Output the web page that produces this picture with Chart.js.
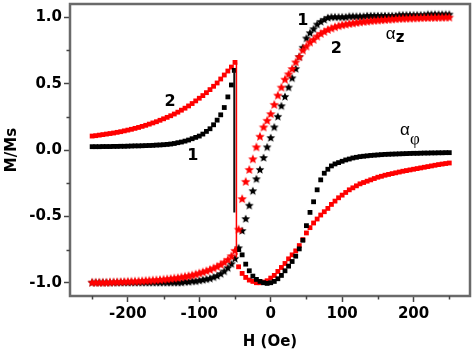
<!DOCTYPE html>
<html>
<head>
<meta charset="utf-8">
<script src="https://cdn.jsdelivr.net/npm/chart.js@4.4.0/dist/chart.umd.min.js"></script>
<style>
  html, body { margin: 0; padding: 0; background: #fff; }
  #wrap { width: 474px; height: 351px; }
</style>
</head>
<body>
<div id="wrap"><canvas id="chart" width="474" height="351"></canvas></div>
<script>
// Field values (Oe) for the alpha_z curves and the full sweep
var hField = [
  -250, -245, -240, -235, -230, -225, -220, -215, -210, -205,
  -200, -195, -190, -185, -180, -175, -170, -165, -160, -155,
  -150, -145, -140, -135, -130, -125, -120, -115, -110, -105,
  -100, -95, -90, -85, -80, -75, -70, -65, -60, -55,
  -50, -45, -40, -35, -30, -25, -20, -15, -10, -5,
  0, 5, 10, 15, 20, 25, 30, 35, 40, 45,
  50, 55, 60, 65, 70, 75, 80, 85, 90, 95,
  100, 105, 110, 115, 120, 125, 130, 135, 140, 145,
  150, 155, 160, 165, 170, 175, 180, 185, 190, 195,
  200, 205, 210, 215, 220, 225, 230, 235, 240, 245,
  250
];

// alpha_z, curve 1 (black stars)
var azBlack = [
  -1.0, -1.0, -1.0, -1.0, -1.0, -1.0, -1.0, -1.0, -1.0, -1.0,
  -1.0, -1.0, -1.0, -1.0, -1.0, -1.0, -1.0, -1.0, -1.0, -1.0,
  -1.0, -1.0, -1.0, -1.0, -1.0, -1.0, -0.995, -0.995, -0.99, -0.99,
  -0.985, -0.98, -0.975, -0.97, -0.96, -0.95, -0.935, -0.915, -0.89, -0.86,
  -0.82, -0.74, -0.61, -0.52, -0.42, -0.31, -0.22, -0.15, -0.06, 0.02,
  0.09, 0.17, 0.25, 0.33, 0.40, 0.47, 0.54, 0.61, 0.70, 0.77,
  0.84, 0.88, 0.91, 0.945, 0.965, 0.98, 0.995, 1.0, 1.0, 1.0,
  1.0, 1.0, 1.005, 1.005, 1.005, 1.005, 1.005, 1.01, 1.01, 1.01,
  1.01, 1.01, 1.01, 1.01, 1.01, 1.01, 1.015, 1.015, 1.015, 1.015,
  1.015, 1.015, 1.015, 1.015, 1.02, 1.02, 1.02, 1.02, 1.02, 1.02,
  1.02
];

// alpha_z, curve 2 (red stars)
var azRed = [
  -1.0, -1.0, -1.0, -1.0, -1.0, -0.998, -0.997, -0.996, -0.995, -0.994,
  -0.993, -0.992, -0.991, -0.99, -0.988, -0.986, -0.985, -0.983, -0.981, -0.979,
  -0.977, -0.974, -0.971, -0.968, -0.965, -0.96, -0.955, -0.95, -0.945, -0.938,
  -0.93, -0.922, -0.913, -0.903, -0.892, -0.88, -0.865, -0.848, -0.828, -0.80,
  -0.76, -0.60, -0.37, -0.24, -0.15, -0.07, 0.02, 0.10, 0.17, 0.22,
  0.27, 0.34, 0.41, 0.47, 0.53, 0.57, 0.61, 0.66, 0.70, 0.75,
  0.78, 0.81, 0.83, 0.855, 0.875, 0.89, 0.905, 0.915, 0.925, 0.933,
  0.94, 0.945, 0.95, 0.954, 0.958, 0.962, 0.965, 0.968, 0.971, 0.974,
  0.976, 0.978, 0.98, 0.982, 0.984, 0.986, 0.988, 0.989, 0.99, 0.991,
  0.992, 0.993, 0.994, 0.995, 0.995, 0.996, 0.996, 0.997, 0.997, 0.998,
  0.998
];

// alpha_phi, branch before the jump
var hLeft = [
  -250, -245, -240, -235, -230, -225, -220, -215, -210, -205,
  -200, -195, -190, -185, -180, -175, -170, -165, -160, -155,
  -150, -145, -140, -135, -130, -125, -120, -115, -110, -105,
  -100, -95, -90, -85, -80, -75, -70, -65, -60, -55
];
var hJumpBlack = -51;
var hJumpRed = -48;
var hPeakRed = -50;

var apBlackLeft = [
  0.025, 0.025, 0.025, 0.026, 0.026, 0.026, 0.027, 0.027, 0.028, 0.028,
  0.029, 0.03, 0.031, 0.031, 0.032, 0.033, 0.034, 0.035, 0.037, 0.038,
  0.04, 0.042, 0.045, 0.049, 0.055, 0.06, 0.067, 0.075, 0.085, 0.095,
  0.105, 0.12, 0.14, 0.16, 0.19, 0.225, 0.265, 0.32, 0.40, 0.49
];
var apBlackPeak = 0.60;

var apRedLeft = [
  0.105, 0.108, 0.112, 0.116, 0.12, 0.124, 0.128, 0.133, 0.138, 0.144,
  0.15, 0.156, 0.163, 0.17, 0.178, 0.186, 0.195, 0.204, 0.213, 0.224,
  0.235, 0.246, 0.258, 0.271, 0.285, 0.30, 0.315, 0.332, 0.35, 0.37,
  0.39, 0.41, 0.432, 0.455, 0.48, 0.505, 0.535, 0.565, 0.595, 0.625
];
var apRedPeak = 0.66;

// where the vertical jump lines end
var jumpBlackEnd = -0.47;
var jumpRedEnd = -0.81;

// alpha_phi, branch after the jump
var hRight = [
  -45, -40, -35, -30, -25, -20, -15, -10, -5, 0,
  5, 10, 15, 20, 25, 30, 35, 40, 45, 50,
  55, 60, 65, 70, 75, 80, 85, 90, 95, 100,
  105, 110, 115, 120, 125, 130, 135, 140, 145, 150,
  155, 160, 165, 170, 175, 180, 185, 190, 195, 200,
  205, 210, 215, 220, 225, 230, 235, 240, 245, 250
];

var apBlackRight = [
  -0.75, -0.79, -0.86, -0.91, -0.95, -0.975, -0.99, -1.0, -1.005, -1.0,
  -0.99, -0.97, -0.945, -0.91, -0.875, -0.84, -0.80, -0.745, -0.68, -0.57,
  -0.47, -0.39, -0.30, -0.225, -0.175, -0.145, -0.12, -0.105, -0.095, -0.085,
  -0.075, -0.068, -0.06, -0.055, -0.05, -0.047, -0.044, -0.041, -0.039, -0.037,
  -0.035, -0.033, -0.032, -0.031, -0.03, -0.029, -0.028, -0.027, -0.026, -0.025,
  -0.025, -0.024, -0.023, -0.023, -0.022, -0.022, -0.021, -0.021, -0.02, -0.02
];

var apRedRight = [
  -0.88, -0.93, -0.96, -0.98, -0.99, -1.0, -1.0, -0.995, -0.985, -0.965,
  -0.945, -0.915, -0.885, -0.855, -0.82, -0.79, -0.76, -0.72, -0.675, -0.625,
  -0.585, -0.55, -0.52, -0.49, -0.465, -0.44, -0.41, -0.385, -0.36, -0.34,
  -0.32, -0.30, -0.285, -0.27, -0.255, -0.245, -0.235, -0.225, -0.215, -0.205,
  -0.198, -0.19, -0.184, -0.178, -0.172, -0.166, -0.16, -0.155, -0.15, -0.145,
  -0.14, -0.135, -0.13, -0.125, -0.12, -0.115, -0.11, -0.106, -0.102, -0.098
];

// tick marks
var minorTicksX = [-250, -150, -50, 50, 150, 250];
var minorTicksY = [-0.75, -0.25, 0.25, 0.75];

// curve labels, anchored in data units
var curveLabels = [
  { text: '1', h: 45, m: 0.975, font: 'bold 16px "DejaVu Sans"' },
  { text: '2', h: 92, m: 0.76, font: 'bold 16px "DejaVu Sans"' },
  { text: '2', h: -141, m: 0.365, font: 'bold 16px "DejaVu Sans"' },
  { text: '1', h: -109, m: -0.045, font: 'bold 16px "DejaVu Sans"' },
  { text: 'α', h: 168, m: 0.875, font: '17px "Liberation Sans"' },
  { text: 'z', h: 181, m: 0.84, font: 'bold 15px "DejaVu Sans"' },
  { text: 'α', h: 188, m: 0.145, font: '17px "Liberation Sans"' },
  { text: 'φ', h: 202, m: 0.08, font: '17px "Liberation Serif"' }
];

function toPoints(xs, ys) {
  var pts = [];
  for (var i = 0; i < xs.length; i++) {
    pts.push({ x: xs[i], y: ys[i] });
  }
  return pts;
}

// Filled five-point star used as the point style of the alpha_z curves
function makeStar(color, r) {
  var c = document.createElement('canvas');
  var s = Math.ceil(r * 2) + 2;
  c.width = s;
  c.height = s;
  var g = c.getContext('2d');
  g.fillStyle = color;
  g.beginPath();
  for (var i = 0; i < 10; i++) {
    var rad = i % 2 === 0 ? r : r * 0.45;
    var a = -Math.PI / 2 + i * Math.PI / 5;
    g.lineTo(s / 2 + rad * Math.cos(a), s / 2 + rad * Math.sin(a));
  }
  g.closePath();
  g.fill();
  return c;
}

var RED = '#ff0000';
var BLACK = '#000000';
var tickFont = { family: '"DejaVu Sans", sans-serif', size: 15, weight: 'bold' };

function squareSet(points, color) {
  return {
    data: points,
    showLine: false,
    pointStyle: 'rect',
    pointRadius: 3.4,
    pointBorderWidth: 0,
    pointBackgroundColor: color,
    pointBorderColor: color
  };
}

function starSet(points, img) {
  return {
    data: points,
    showLine: false,
    pointStyle: img,
    pointRadius: 4,
    pointBorderWidth: 0
  };
}

function jumpSet(h, top, bottom, color, width) {
  return {
    data: [{ x: h, y: top }, { x: h, y: bottom }],
    showLine: true,
    borderColor: color,
    borderWidth: width,
    pointRadius: 0
  };
}

// keep the plot box where the reference has it (no label overhang padding)
function noOverhang(scale) {
  scale.paddingTop = 0;
  scale.paddingBottom = 0;
  scale.paddingLeft = 0;
  scale.paddingRight = 0;
}

var decorPlugin = {
  id: 'decor',
  afterDraw: function(chart) {
    var ctx = chart.ctx;
    var a = chart.chartArea;
    var xs = chart.scales.x;
    var ys = chart.scales.y;
    ctx.save();

    // frame around the plot
    ctx.strokeStyle = '#6a6a6a';
    ctx.lineWidth = 2.5;
    ctx.strokeRect(a.left, a.top, a.right - a.left, a.bottom - a.top);

    // minor ticks
    ctx.strokeStyle = '#444';
    ctx.lineWidth = 1.5;
    ctx.beginPath();
    minorTicksX.forEach(function(v) {
      var px = Math.round(xs.getPixelForValue(v)) + 0.5;
      ctx.moveTo(px, a.bottom);
      ctx.lineTo(px, a.bottom + 3.5);
    });
    minorTicksY.forEach(function(v) {
      var py = Math.round(ys.getPixelForValue(v)) + 0.5;
      ctx.moveTo(a.left, py);
      ctx.lineTo(a.left - 3.5, py);
    });
    ctx.stroke();

    // curve labels
    ctx.fillStyle = '#000';
    ctx.textAlign = 'center';
    ctx.textBaseline = 'middle';
    curveLabels.forEach(function(l) {
      ctx.font = l.font;
      ctx.fillText(l.text, xs.getPixelForValue(l.h), ys.getPixelForValue(l.m));
    });
    ctx.restore();
  }
};

var starBlack = makeStar(BLACK, 4.6);
var starRed = makeStar(RED, 5);

new Chart(document.getElementById('chart'), {
  type: 'scatter',
  data: {
    datasets: [
      jumpSet(hJumpBlack, apBlackPeak, jumpBlackEnd, '#111', 2),
      jumpSet(hJumpRed, apRedPeak, jumpRedEnd, RED, 1.5),
      squareSet(toPoints(hRight, apBlackRight), BLACK),
      squareSet(toPoints(hRight, apRedRight), RED),
      squareSet(toPoints(hLeft.concat([hJumpBlack]), apBlackLeft.concat([apBlackPeak])), BLACK),
      squareSet(toPoints(hLeft.concat([hPeakRed]), apRedLeft.concat([apRedPeak])), RED),
      starSet(toPoints(hField, azRed), starRed),
      starSet(toPoints(hField, azBlack), starBlack)
    ]
  },
  options: {
    responsive: false,
    animation: false,
    devicePixelRatio: 1,
    layout: { padding: { top: 2, right: 3, left: 0, bottom: 0 } },
    plugins: {
      legend: { display: false },
      tooltip: { enabled: false }
    },
    scales: {
      x: {
        type: 'linear',
        min: -281,
        max: 279,
        afterFit: function(scale) {
          scale.height = 55;
          noOverhang(scale);
        },
        ticks: {
          stepSize: 100,
          includeBounds: false,
          maxRotation: 0,
          padding: 3,
          color: '#000',
          font: tickFont
        },
        grid: {
          drawOnChartArea: false,
          drawTicks: true,
          tickLength: 6,
          tickWidth: 1.5,
          tickColor: '#444'
        },
        border: { color: '#6a6a6a', width: 2 },
        title: {
          display: true,
          text: 'H (Oe)',
          color: '#000',
          font: tickFont,
          padding: { top: 0, bottom: 0 }
        }
      },
      y: {
        type: 'linear',
        min: -1.1,
        max: 1.1,
        afterFit: function(scale) {
          scale.width = 70;
          noOverhang(scale);
        },
        ticks: {
          stepSize: 0.5,
          includeBounds: false,
          padding: 2,
          color: '#000',
          font: tickFont,
          callback: function(v) { return v.toFixed(1); }
        },
        grid: {
          drawOnChartArea: false,
          drawTicks: true,
          tickLength: 6,
          tickWidth: 1.5,
          tickColor: '#444'
        },
        border: { color: '#6a6a6a', width: 2 },
        title: {
          display: true,
          text: 'M/Ms',
          color: '#000',
          font: tickFont,
          padding: { top: 3, bottom: 0 }
        }
      }
    }
  },
  plugins: [decorPlugin]
});
</script>
</body>
</html>
